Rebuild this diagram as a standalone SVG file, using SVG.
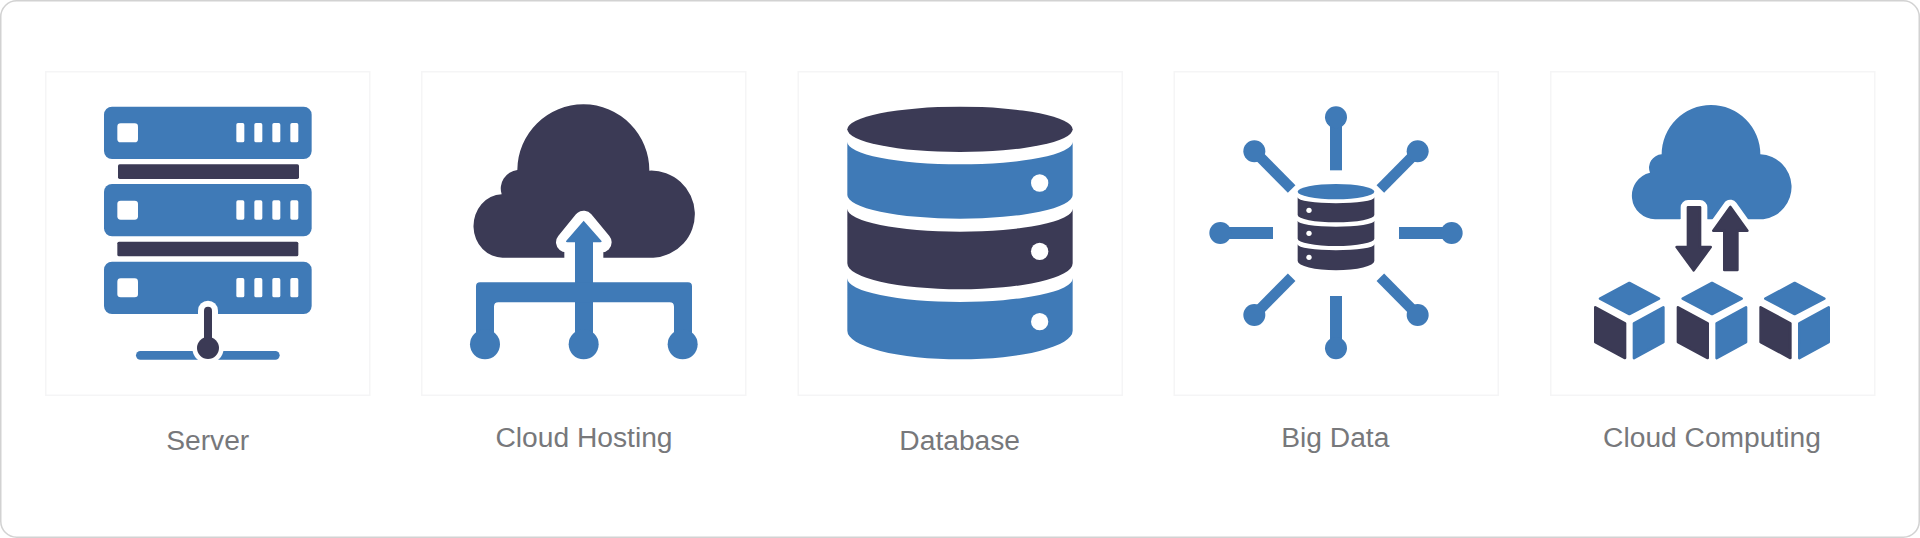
<svg xmlns="http://www.w3.org/2000/svg" xmlns:xlink="http://www.w3.org/1999/xlink" width="1920" height="538" viewBox="0 0 1920 538">
<style>
.b{fill:#3f7ab7}.d{fill:#3b3a55}.w{fill:#fff}
.p{fill:#fff;stroke:#f5f5f6;stroke-width:1.5}
.t{font-family:"Liberation Sans",Arial,sans-serif;font-size:28.2px;fill:#77787b;text-anchor:middle}
.halo{fill:#fff;stroke:#fff;stroke-linejoin:round;stroke-linecap:round}
.rj{stroke-linejoin:round;stroke-width:8}
.rj.b{stroke:#3f7ab7}.rj.d{stroke:#3b3a55}
</style>
<defs>
<g id="rack">
<rect class="b" x="192" width="623" height="157" rx="24"/>
<rect class="w" x="232" y="50" width="62" height="57" rx="10"/>
<rect class="w" x="589" y="49" width="24" height="58" rx="5"/>
<rect class="w" x="643" y="49" width="24" height="58" rx="5"/>
<rect class="w" x="697" y="49" width="24" height="58" rx="5"/>
<rect class="w" x="751" y="49" width="24" height="58" rx="5"/>
</g>
<g id="cube">
<path class="b rj" d="M180,716 L268,669 L357,716 L268,762Z"/>
<path class="d rj" d="M166,742 L255,790 V894 L166,846Z"/>
<path class="b rj" d="M282,790 L370,742 V846 L282,894Z"/>
</g>
<path id="down" d="M444,442 H480 V561 H512 L461,631 L410,561 H444Z"/>
<path id="up" d="M553,630 H592 V512 H622 L571,441 L520,512 H553Z"/>
</defs>
<rect x="0.75" y="0.75" width="1918.5" height="536.5" rx="16" fill="#fff" stroke="#d2d2d2" stroke-width="1.5"/>

<g id="server">
<rect class="p" x="45.75" y="71.75" width="324" height="323.5"/>
<g transform="translate(40 60) scale(.33333)">
<use xlink:href="#rack" href="#rack" y="140"/>
<use xlink:href="#rack" href="#rack" y="372"/>
<use xlink:href="#rack" href="#rack" y="605"/>
<rect class="d" x="234" y="313" width="543" height="44" rx="5"/>
<rect class="d" x="232" y="545" width="543" height="44" rx="5"/>
<rect class="b" x="288" y="873" width="431" height="26" rx="13"/>
<path class="halo" stroke-width="60" d="M504,752 V830"/>
<circle class="w" cx="504" cy="864" r="47"/>
<rect class="d" x="492" y="740" width="24" height="110" rx="12"/>
<circle class="d" cx="504" cy="864" r="33"/>
</g>
<text class="t" x="207.7" y="449.5">Server</text>
</g>

<g id="cloud-hosting">
<rect class="p" x="421.75" y="71.75" width="324" height="323.5"/>
<g transform="translate(420 60) scale(.33333)">
<path class="d" d="M250,593 A87,95 0 0 1 245,403 A56,56 0 0 1 292,330 A198,198 0 0 1 688,332 A130,130 0 0 1 700,593Z"/>
<path class="halo" stroke-width="60" d="M491,482 L438,547 H465 V620 H519 V547 H545Z"/>
<rect class="w" x="433" y="570" width="117" height="40"/>
<path class="b" d="M491,482 L544,542 Q547,547 541,547 H519 V853 H465 V547 H442 Q436,547 439,542Z"/>
<path class="b" d="M180,667 H804 Q816,667 816,679 V853 H762 V740 Q762,727 749,727 H235 Q222,727 222,740 V853 H168 V679 Q168,667 180,667Z"/>
<circle class="b" cx="195" cy="853" r="45"/>
<circle class="b" cx="491" cy="853" r="45"/>
<circle class="b" cx="788" cy="853" r="45"/>
</g>
<text class="t" x="584" y="446.5">Cloud Hosting</text>
</g>

<g id="database">
<rect class="p" x="798.25" y="71.75" width="324" height="323.5"/>
<g transform="translate(790 60) scale(.33333)">
<ellipse class="d" cx="510" cy="208" rx="338" ry="68"/>
<path class="b" d="M172,246 A338,67 0 0 0 848,246 V405 A338,71 0 0 1 172,405Z"/>
<path class="d" d="M172,446 A338,69 0 0 0 848,446 V610 A338,78 0 0 1 172,610Z"/>
<path class="b" d="M172,655 A338,71 0 0 0 848,655 V812 A338,86 0 0 1 172,812Z"/>
<circle class="w" cx="749" cy="369" r="26"/>
<circle class="w" cx="749" cy="574" r="26"/>
<circle class="w" cx="749" cy="785" r="26"/>
</g>
<text class="t" x="959.7" y="449.5">Database</text>
</g>

<g id="big-data">
<rect class="p" x="1174.25" y="71.75" width="324" height="323.5"/>
<g transform="translate(1170 60) scale(.33333)">
<g fill="none" stroke="#3f7ab7" stroke-width="36">
<path d="M498,172 V331"/>
<path d="M498,708 V865"/>
<path d="M151,519 H309"/>
<path d="M687,519 H845"/>
<path stroke-width="32" d="M253,274 L365,387"/>
<path stroke-width="32" d="M743,274 L631,387"/>
<path stroke-width="32" d="M253,765 L365,652"/>
<path stroke-width="32" d="M743,765 L631,652"/>
</g>
<circle class="b" cx="498" cy="172" r="33"/>
<circle class="b" cx="253" cy="274" r="33"/>
<circle class="b" cx="743" cy="274" r="33"/>
<circle class="b" cx="151" cy="519" r="33"/>
<circle class="b" cx="845" cy="519" r="33"/>
<circle class="b" cx="253" cy="765" r="33"/>
<circle class="b" cx="743" cy="765" r="33"/>
<circle class="b" cx="498" cy="865" r="33"/>
<ellipse class="b" cx="498" cy="395" rx="115" ry="23"/>
<path class="d" d="M383,412 A115,18 0 0 0 613,412 V465 A115,22 0 0 1 383,465Z"/>
<path class="d" d="M383,482 A115,18 0 0 0 613,482 V536 A115,22 0 0 1 383,536Z"/>
<path class="d" d="M383,553 A115,18 0 0 0 613,553 V603 A115,28 0 0 1 383,603Z"/>
<circle class="w" cx="417" cy="451" r="8"/>
<circle class="w" cx="417" cy="520" r="8"/>
<circle class="w" cx="417" cy="592" r="8"/>
</g>
<text class="t" x="1335.3" y="446.5">Big Data</text>
</g>

<g id="cloud-computing">
<rect class="p" x="1550.75" y="71.75" width="324" height="323.5"/>
<g transform="translate(1540 60) scale(.33333)">
<path class="b" d="M345,478 A71,71 0 0 1 330,338 A40,40 0 0 1 365,283 A148,148 0 0 1 661,283 A98,98 0 0 1 670,478Z"/>
<use xlink:href="#down" href="#down" class="halo" stroke-width="44"/>
<use xlink:href="#up" href="#up" class="halo" stroke-width="44"/>
<rect class="w" x="420" y="478" width="82" height="20"/>
<rect class="w" x="530" y="478" width="90" height="40"/>
<use xlink:href="#down" href="#down" class="d rj"/>
<use xlink:href="#up" href="#up" class="d rj"/>
<use xlink:href="#cube" href="#cube"/>
<use xlink:href="#cube" href="#cube" x="248"/>
<use xlink:href="#cube" href="#cube" x="496"/>
</g>
<text class="t" x="1712" y="446.5">Cloud Computing</text>
</g>
</svg>
